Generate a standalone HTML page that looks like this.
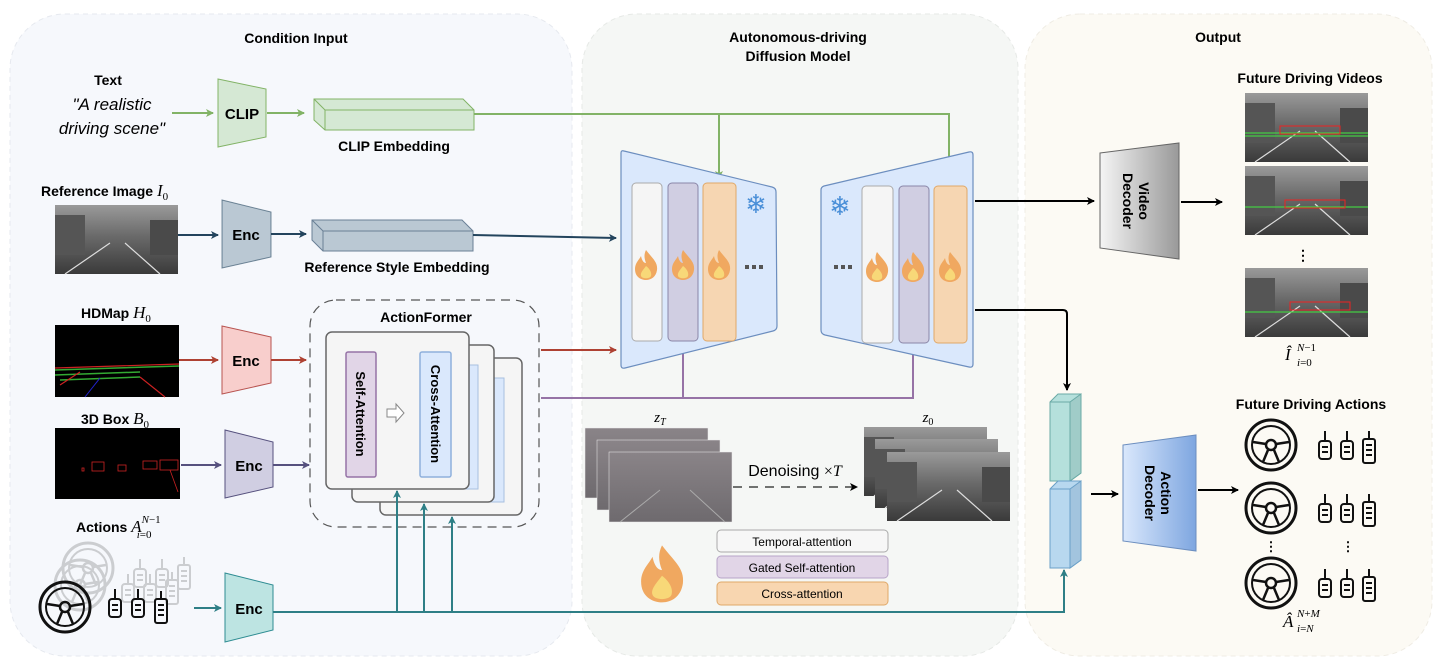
<!DOCTYPE html>
<html><head><meta charset="utf-8"><style>
html,body{margin:0;padding:0;background:#fff;}
svg{display:block;font-family:"Liberation Sans",sans-serif;}
.b{font-weight:bold;}
.m{font-family:"Liberation Serif",serif;font-style:italic;}
</style></head><body>
<svg width="1440" height="668" viewBox="0 0 1440 668" xmlns="http://www.w3.org/2000/svg">
<defs>
<marker id="aG" markerWidth="8" markerHeight="8" refX="7" refY="4" orient="auto" markerUnits="userSpaceOnUse"><path d="M0,0 L8,4 L0,8 L2,4z" fill="#82b366"/></marker>
<marker id="aN" markerWidth="8" markerHeight="8" refX="7" refY="4" orient="auto" markerUnits="userSpaceOnUse"><path d="M0,0 L8,4 L0,8 L2,4z" fill="#23445d"/></marker>
<marker id="aR" markerWidth="8" markerHeight="8" refX="7" refY="4" orient="auto" markerUnits="userSpaceOnUse"><path d="M0,0 L8,4 L0,8 L2,4z" fill="#ae4132"/></marker>
<marker id="aP" markerWidth="8" markerHeight="8" refX="7" refY="4" orient="auto" markerUnits="userSpaceOnUse"><path d="M0,0 L8,4 L0,8 L2,4z" fill="#56517e"/></marker>
<marker id="aV" markerWidth="8" markerHeight="8" refX="7" refY="4" orient="auto" markerUnits="userSpaceOnUse"><path d="M0,0 L8,4 L0,8 L2,4z" fill="#9673a6"/></marker>
<marker id="aT" markerWidth="8" markerHeight="8" refX="7" refY="4" orient="auto" markerUnits="userSpaceOnUse"><path d="M0,0 L8,4 L0,8 L2,4z" fill="#2e7f86"/></marker>
<marker id="aK" markerWidth="8" markerHeight="8" refX="7" refY="4" orient="auto" markerUnits="userSpaceOnUse"><path d="M0,0 L8,4 L0,8 L2,4z" fill="#000"/></marker>
<linearGradient id="gG" x1="0" x2="1"><stop offset="0" stop-color="#f5f5f5"/><stop offset="1" stop-color="#999"/></linearGradient>
<linearGradient id="gB" x1="0" x2="1"><stop offset="0" stop-color="#dae8fc"/><stop offset="1" stop-color="#7ea6e0"/></linearGradient>
<linearGradient id="sky" x1="0" y1="0" x2="0" y2="1"><stop offset="0" stop-color="#9a9a9a"/><stop offset="0.45" stop-color="#6a6a6a"/><stop offset="1" stop-color="#3a3a3a"/></linearGradient>
<linearGradient id="noise" x1="0" y1="0" x2="0" y2="1"><stop offset="0" stop-color="#8a8488"/><stop offset="1" stop-color="#6e6a6e"/></linearGradient>
<g id="flame"><path d="M0,-14 C6,-6 12,-2 11,6 C10,13 5,16 0,16 C-5,16 -11,13 -11,5 C-11,-1 -7,-4 -5,-8 C-4,-3 -2,-1 0,-1 C-2,-6 -2,-10 0,-14z" fill="#f0a860"/><path d="M0,2 C4,5 6,9 5,12 C4,15 -4,15 -5,12 C-6,9 -3,6 0,2z" fill="#f8d878"/></g>
<g id="wheel" fill="none" stroke="#111"><circle r="25" stroke-width="3"/><circle r="19" stroke-width="2"/><circle r="5" stroke-width="2.5"/><path d="M-18,-3 L-5,-1 M18,-3 L5,-1 M-3,5 L-8,17 M3,5 L8,17" stroke-width="2.5"/></g>
<g id="ped" fill="none" stroke="#111" stroke-width="2"><path d="M0,-16 V-6"/><rect x="-6" y="-6" width="12" height="18" rx="3"/><path d="M-3,0 H3 M-3,5 H3"/></g>
<g id="ped2" fill="none" stroke="#111" stroke-width="2"><path d="M0,-16 V-8"/><rect x="-6" y="-8" width="12" height="24" rx="2"/><path d="M-3,-2 H3 M-3,3 H3 M-3,8 H3"/></g>
<g id="photo"><rect width="123" height="69" fill="url(#sky)"/><rect x="0" y="10" width="30" height="40" fill="#555"/><rect x="95" y="15" width="28" height="35" fill="#4a4a4a"/><path d="M10,69 L55,38 M105,69 L70,38" stroke="#ddd" stroke-width="1.2"/></g>
<g id="dots" fill="#555"><rect x="-9" y="-2" width="4" height="4"/><rect x="-2" y="-2" width="4" height="4"/><rect x="5" y="-2" width="4" height="4"/></g>
</defs>

<rect x="10" y="14" width="562" height="642" rx="55" fill="#f6f8fc" stroke="#e6e9ef" stroke-dasharray="5 4"/>
<rect x="582" y="14" width="436" height="642" rx="55" fill="#f5f7f5" stroke="#e6e9e6" stroke-dasharray="5 4"/>
<rect x="1025" y="14" width="407" height="642" rx="55" fill="#fcfaf4" stroke="#efece4" stroke-dasharray="5 4"/>
<text x="296" y="43" class="b" font-size="14" text-anchor="middle">Condition Input</text>
<text x="798" y="42" class="b" font-size="14" text-anchor="middle">Autonomous-driving</text>
<text x="798" y="61" class="b" font-size="14" text-anchor="middle">Diffusion Model</text>
<text x="1218" y="42" class="b" font-size="14" text-anchor="middle">Output</text>

<text x="108" y="85" class="b" font-size="14" text-anchor="middle">Text</text>
<text x="112" y="110" font-size="17" font-style="italic" text-anchor="middle">"A realistic</text>
<text x="112" y="134" font-size="17" font-style="italic" text-anchor="middle">driving scene"</text>
<line x1="172" y1="113" x2="213" y2="113" stroke="#82b366" stroke-width="2" marker-end="url(#aG)"/>
<path d="M218,79 L266,89 L266,137 L218,147z" fill="#d5e8d4" stroke="#82b366"/>
<text x="242" y="119" class="b" font-size="15" text-anchor="middle">CLIP</text>
<line x1="267" y1="113" x2="304" y2="113" stroke="#82b366" stroke-width="2" marker-end="url(#aG)"/>
<path d="M314,99 L463,99 L474,110 L474,130 L325,130 L314,120z" fill="#d5e8d4" stroke="#82b366"/>
<path d="M314,99 L325,110 L474,110 M325,110 V130" fill="none" stroke="#82b366"/>
<text x="394" y="151" class="b" font-size="14" text-anchor="middle">CLIP Embedding</text>
<path d="M474,114 H949 V180" fill="none" stroke="#82b366" stroke-width="2" marker-end="url(#aG)"/>
<path d="M719,114 V178" fill="none" stroke="#82b366" stroke-width="2" marker-end="url(#aG)"/>

<text x="41" y="196" class="b" font-size="14">Reference Image <tspan class="m" font-size="17" font-weight="normal">I</tspan><tspan font-family="Liberation Serif" font-size="11" font-weight="normal" dy="4">0</tspan></text>
<use href="#photo" x="55" y="205"/>
<line x1="178" y1="235" x2="218" y2="235" stroke="#23445d" stroke-width="2" marker-end="url(#aN)"/>
<path d="M222,200 L271,212 L271,257 L222,268z" fill="#bac8d3" stroke="#23445d" stroke-opacity="0.6"/>
<text x="246" y="240" class="b" font-size="15" text-anchor="middle">Enc</text>
<line x1="271" y1="234" x2="306" y2="234" stroke="#23445d" stroke-width="2" marker-end="url(#aN)"/>
<path d="M312,220 L462,220 L473,231 L473,251 L323,251 L312,240z" fill="#bac8d3" stroke="#6a8096"/>
<path d="M312,220 L323,231 L473,231 M323,231 V251" fill="none" stroke="#6a8096"/>
<text x="397" y="272" class="b" font-size="14" text-anchor="middle">Reference Style Embedding</text>
<path d="M473,235 L616,238" fill="none" stroke="#23445d" stroke-width="2" marker-end="url(#aN)"/>

<text x="81" y="318" class="b" font-size="14">HDMap <tspan class="m" font-size="17" font-weight="normal">H</tspan><tspan font-family="Liberation Serif" font-size="11" font-weight="normal" dy="4">0</tspan></text>
<rect x="55" y="325" width="124" height="72" fill="#000"/>
<path d="M55,370 L179,366 M55,375 L140,372 M60,380 L140,377" stroke="#3a3" stroke-width="1.5"/>
<path d="M55,368 L179,364 M60,385 L80,372 M140,377 L165,397" stroke="#c22" stroke-width="1.2"/>
<path d="M85,397 L100,378" stroke="#22c" stroke-width="1"/>
<line x1="179" y1="360" x2="218" y2="360" stroke="#ae4132" stroke-width="2" marker-end="url(#aR)"/>
<path d="M222,326 L271,337 L271,383 L222,394z" fill="#f8cecc" stroke="#b85450"/>
<text x="246" y="366" class="b" font-size="15" text-anchor="middle">Enc</text>
<line x1="271" y1="360" x2="306" y2="360" stroke="#ae4132" stroke-width="2" marker-end="url(#aR)"/>

<text x="81" y="424" class="b" font-size="14">3D Box <tspan class="m" font-size="17" font-weight="normal">B</tspan><tspan font-family="Liberation Serif" font-size="11" font-weight="normal" dy="4">0</tspan></text>
<rect x="55" y="428" width="125" height="71" fill="#000"/>
<g fill="none" stroke="#c22" stroke-width="0.8"><rect x="92" y="462" width="12" height="9"/><rect x="118" y="465" width="8" height="6"/><rect x="143" y="461" width="14" height="8"/><rect x="160" y="460" width="18" height="10"/><path d="M170,470 L178,492"/><rect x="82" y="468" width="2" height="3"/></g>
<line x1="181" y1="465" x2="221" y2="465" stroke="#56517e" stroke-width="2" marker-end="url(#aP)"/>
<path d="M225,430 L273,442 L273,487 L225,498z" fill="#d0cee2" stroke="#56517e"/>
<text x="249" y="471" class="b" font-size="15" text-anchor="middle">Enc</text>
<line x1="273" y1="465" x2="309" y2="465" stroke="#56517e" stroke-width="2" marker-end="url(#aP)"/>

<text x="76" y="532" class="b" font-size="14">Actions <tspan class="m" font-size="17" font-weight="normal">A</tspan><tspan class="m" font-size="11" font-weight="normal" dy="-9">N</tspan><tspan font-family="Liberation Serif" font-size="11" font-weight="normal">−1</tspan><tspan class="m" font-size="11" font-weight="normal" dx="-24" dy="15">i</tspan><tspan font-family="Liberation Serif" font-size="11" font-weight="normal">=0</tspan></text>
<g opacity="0.18"><use href="#wheel" x="88" y="568"/><use href="#wheel" x="80" y="585"/><use href="#ped" x="140" y="575"/><use href="#ped" x="162" y="575"/><use href="#ped2" x="184" y="573"/><use href="#ped" x="128" y="590"/><use href="#ped" x="150" y="590"/><use href="#ped2" x="172" y="588"/></g>
<use href="#wheel" x="65" y="607"/>
<use href="#ped" x="115" y="605"/><use href="#ped" x="138" y="605"/><use href="#ped2" x="161" y="607"/>
<line x1="194" y1="608" x2="221" y2="608" stroke="#2e7f86" stroke-width="2" marker-end="url(#aT)"/>
<path d="M225,573 L273,585 L273,630 L225,642z" fill="#bde4e2" stroke="#2e8c92"/>
<text x="249" y="614" class="b" font-size="15" text-anchor="middle">Enc</text>

<rect x="310" y="300" width="229" height="227" rx="26" fill="none" stroke="#555" stroke-dasharray="9 6" stroke-width="1.2"/>
<text x="426" y="322" class="b" font-size="14" text-anchor="middle">ActionFormer</text>
<rect x="380" y="358" width="142" height="157" rx="6" fill="#f5f5f5" stroke="#666" stroke-width="1.5"/>
<rect x="477" y="378" width="27" height="124" fill="#dae8fc" stroke="#a8c0e0"/>
<rect x="352" y="345" width="142" height="157" rx="6" fill="#f5f5f5" stroke="#666" stroke-width="1.5"/>
<rect x="451" y="365" width="27" height="124" fill="#dae8fc" stroke="#a8c0e0"/>
<rect x="326" y="332" width="143" height="157" rx="6" fill="#f5f5f5" stroke="#666" stroke-width="1.5"/>
<rect x="346" y="352" width="30" height="125" rx="2" fill="#e1d5e7" stroke="#9673a6" stroke-width="1.5"/>
<rect x="420" y="352" width="31" height="125" rx="2" fill="#dae8fc" stroke="#8fb0dc" stroke-width="1.5"/>
<text transform="translate(356,414) rotate(90)" class="b" font-size="13" text-anchor="middle">Self-Attention</text>
<text transform="translate(431,414) rotate(90)" class="b" font-size="13" text-anchor="middle">Cross-Attention</text>
<path d="M387,409 H396 V404 L404,413 L396,422 V417 H387z" fill="#fff" stroke="#888"/>
<path d="M273,612 H1064 V570" fill="none" stroke="#2e7f86" stroke-width="2" marker-end="url(#aT)"/>
<path d="M397,612 V491" fill="none" stroke="#2e7f86" stroke-width="2" marker-end="url(#aT)"/>
<path d="M424,612 V504" fill="none" stroke="#2e7f86" stroke-width="2" marker-end="url(#aT)"/>
<path d="M452,612 V517" fill="none" stroke="#2e7f86" stroke-width="2" marker-end="url(#aT)"/>
<line x1="541" y1="350" x2="616" y2="350" stroke="#ae4132" stroke-width="2" marker-end="url(#aR)"/>
<path d="M541,398 H913 V347" fill="none" stroke="#9673a6" stroke-width="2" marker-end="url(#aV)"/>
<path d="M683,398 V345" fill="none" stroke="#9673a6" stroke-width="2" marker-end="url(#aV)"/>

<path d="M621,153 Q621,150 624,151 L772,187 Q776,188 776,192 L777,326 Q777,330 773,331 L625,368 Q621,369 621,365z" fill="#dae8fc" stroke="#6c8ebf" stroke-width="1.2"/>
<rect x="632" y="183" width="30" height="158" rx="4" fill="#f5f5f5" stroke="#aaa"/>
<rect x="668" y="183" width="30" height="158" rx="4" fill="#d0cee2" stroke="#8a86a8"/>
<rect x="703" y="183" width="33" height="158" rx="4" fill="#f6d6b2" stroke="#e0a868"/>
<use href="#flame" x="646" y="264"/><use href="#flame" x="683" y="264"/><use href="#flame" x="719" y="264"/>
<text x="756" y="213" font-size="26" fill="#4a8fd8" text-anchor="middle" font-family="DejaVu Sans">❄</text>
<use href="#dots" x="754" y="267"/>
<path d="M821,190 Q821,187 824,186 L969,152 Q973,151 973,155 L973,364 Q973,368 969,367 L825,335 Q821,334 821,330z" fill="#dae8fc" stroke="#6c8ebf" stroke-width="1.2"/>
<rect x="862" y="186" width="31" height="157" rx="4" fill="#f5f5f5" stroke="#aaa"/>
<rect x="899" y="186" width="30" height="157" rx="4" fill="#d0cee2" stroke="#8a86a8"/>
<rect x="934" y="186" width="33" height="157" rx="4" fill="#f6d6b2" stroke="#e0a868"/>
<use href="#flame" x="877" y="266"/><use href="#flame" x="913" y="266"/><use href="#flame" x="950" y="266"/>
<text x="840" y="215" font-size="26" fill="#4a8fd8" text-anchor="middle" font-family="DejaVu Sans">❄</text>
<use href="#dots" x="843" y="267"/>

<line x1="975" y1="201" x2="1094" y2="201" stroke="#000" stroke-width="2" marker-end="url(#aK)"/>
<path d="M975,310 H1063 Q1067,310 1067,314 V390" fill="none" stroke="#000" stroke-width="2" marker-end="url(#aK)"/>

<text x="660" y="422" class="m" font-size="15" text-anchor="middle">z<tspan font-size="10" dy="3">T</tspan></text>
<text x="928" y="422" class="m" font-size="15" text-anchor="middle">z<tspan font-size="10" font-style="normal" dy="3">0</tspan></text>
<g stroke="#eee" stroke-width="0.5">
<rect x="585" y="428" width="123" height="70" fill="url(#noise)"/>
<rect x="597" y="440" width="123" height="70" fill="url(#noise)"/>
<rect x="609" y="452" width="123" height="70" fill="url(#noise)"/>
</g>
<path d="M620,522 L660,490 M725,522 L690,490" stroke="#aaa" stroke-width="1"/>
<text x="795" y="476" font-size="16" text-anchor="middle">Denoising <tspan font-family="Liberation Serif">×</tspan><tspan class="m">T</tspan></text>
<line x1="733" y1="487" x2="857" y2="487" stroke="#222" stroke-width="1.2" stroke-dasharray="9 7" marker-end="url(#aK)"/>
<use href="#photo" x="864" y="427"/>
<use href="#photo" x="875" y="439"/>
<use href="#photo" x="887" y="452"/>

<use href="#flame" transform="translate(662,572) scale(1.9)"/>
<rect x="717" y="530" width="171" height="22" rx="4" fill="#f7f7f7" stroke="#aaa"/>
<text x="802" y="546" font-size="12" text-anchor="middle">Temporal-attention</text>
<rect x="717" y="556" width="171" height="22" rx="4" fill="#e1d5e7" stroke="#b8a4c8"/>
<text x="802" y="572" font-size="12" text-anchor="middle">Gated Self-attention</text>
<rect x="717" y="582" width="171" height="23" rx="4" fill="#f8d6b0" stroke="#e0a868"/>
<text x="802" y="598" font-size="12" text-anchor="middle">Cross-attention</text>

<path d="M1100,153 L1179,143 L1179,259 L1100,248z" fill="url(#gG)" stroke="#666"/>
<text transform="translate(1139,201) rotate(90)" class="b" font-size="14" text-anchor="middle">Video</text>
<text transform="translate(1123,201) rotate(90)" class="b" font-size="14" text-anchor="middle">Decoder</text>
<line x1="1181" y1="202" x2="1222" y2="202" stroke="#000" stroke-width="2" marker-end="url(#aK)"/>
<text x="1310" y="83" class="b" font-size="14" text-anchor="middle">Future Driving Videos</text>
<g>
<use href="#photo" x="1245" y="93"/><path d="M1245,136 H1368 M1245,133 H1368" stroke="#4c4" stroke-width="1.2"/><rect x="1280" y="126" width="60" height="8" fill="none" stroke="#e22"/>
<use href="#photo" x="1245" y="166"/><path d="M1245,207 H1368" stroke="#4c4" stroke-width="1.2"/><rect x="1285" y="200" width="60" height="8" fill="none" stroke="#e22"/>
<use href="#photo" x="1245" y="268"/><path d="M1245,312 H1368" stroke="#4c4" stroke-width="1.2"/><rect x="1290" y="302" width="60" height="8" fill="none" stroke="#e22"/>
</g>
<text x="1303" y="260" class="b" font-size="14" text-anchor="middle">⋮</text>
<text x="1285" y="360" class="m" font-size="17">Î</text><text x="1297" y="351" class="m" font-size="11">N<tspan font-style="normal">−1</tspan></text><text x="1297" y="366" class="m" font-size="11">i<tspan font-style="normal">=0</tspan></text>

<path d="M1050,402 L1058,394 L1081,394 L1081,473 L1070,481 L1050,481z" fill="#b5e0dc" stroke="#6aaaa6"/>
<path d="M1050,402 H1070 V481" fill="none" stroke="#6aaaa6"/>
<path d="M1070,402 L1081,394 L1081,473 L1070,481z" fill="#a0ccc8" stroke="#6aaaa6"/>
<path d="M1050,489 L1058,481 L1081,481 L1081,560 L1070,568 L1050,568z" fill="#b8d8ef" stroke="#6aa0c8"/>
<path d="M1070,489 L1081,481 L1081,560 L1070,568z" fill="#a2c4de" stroke="#6aa0c8"/>
<path d="M1050,489 H1070" stroke="#6aa0c8"/>
<line x1="1091" y1="494" x2="1118" y2="494" stroke="#000" stroke-width="2" marker-end="url(#aK)"/>
<path d="M1123,445 L1196,435 L1196,551 L1123,541z" fill="url(#gB)" stroke="#6c8ebf"/>
<text transform="translate(1161,493) rotate(90)" class="b" font-size="14" text-anchor="middle">Action</text>
<text transform="translate(1145,493) rotate(90)" class="b" font-size="14" text-anchor="middle">Decoder</text>
<line x1="1198" y1="490" x2="1238" y2="490" stroke="#000" stroke-width="2" marker-end="url(#aK)"/>
<text x="1311" y="409" class="b" font-size="14" text-anchor="middle">Future Driving Actions</text>
<use href="#wheel" x="1271" y="445"/><use href="#wheel" x="1271" y="508"/><use href="#wheel" x="1271" y="583"/>
<use href="#ped" x="1325" y="447"/><use href="#ped" x="1347" y="447"/><use href="#ped2" x="1369" y="447"/>
<use href="#ped" x="1325" y="510"/><use href="#ped" x="1347" y="510"/><use href="#ped2" x="1369" y="510"/>
<use href="#ped" x="1325" y="585"/><use href="#ped" x="1347" y="585"/><use href="#ped2" x="1369" y="585"/>
<text x="1271" y="551" class="b" font-size="13" text-anchor="middle">⋮</text>
<text x="1348" y="551" class="b" font-size="13" text-anchor="middle">⋮</text>
<text x="1283" y="627" class="m" font-size="17">Â</text><text x="1297" y="617" class="m" font-size="11">N<tspan font-style="normal">+</tspan>M</text><text x="1297" y="632" class="m" font-size="11">i<tspan font-style="normal">=</tspan>N</text>
</svg>
</body></html>
